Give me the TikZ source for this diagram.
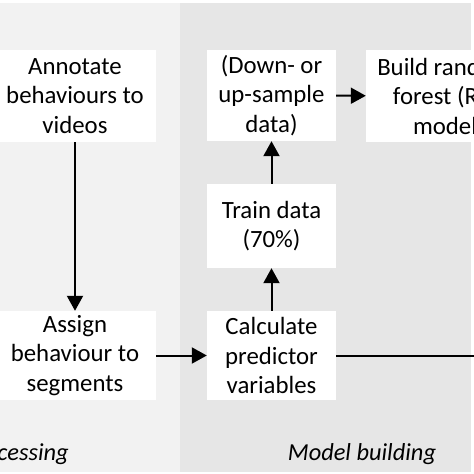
\documentclass[tikz,border=0pt]{standalone}
\usepackage{fontspec}
\setmainfont{Carlito}
\usetikzlibrary{arrows.meta}
\definecolor{panelA}{HTML}{F2F2F2}
\definecolor{panelB}{HTML}{E6E6E6}
\tikzset{
  stepbox/.style={fill=white, draw=none, inner sep=0pt, align=center,
    font=\fontsize{24.8}{29.5}\selectfont, text=black},
  conn/.style={line width=2pt, draw=black},
  arr/.style={conn, -{Triangle[width=16pt,length=15pt]}},
  phase/.style={font=\fontsize{24.4}{28}\selectfont\itshape, inner sep=0pt}
}
\begin{document}
\begin{tikzpicture}[x=1pt,y=-1pt]
\clip (0,0) rectangle (474,474);
\fill[white] (0,0) rectangle (474,474);
\fill[panelA] (0,3) rectangle (180,472);
\fill[panelB] (180,3) rectangle (471,472);
% boxes
\node[stepbox, minimum width=162pt, minimum height=92pt] (ann) at (75,96) {Annotate\\behaviours to\\videos};
\node[stepbox, minimum width=129pt, minimum height=91pt] (down) at (271.5,95.5) {(Down- or\\up-sample\\data)};
\node[stepbox, minimum width=158pt, minimum height=92pt] (rf) at (445,96) {Build random\\forest (RF)\\model};
\node[stepbox, minimum width=129pt, minimum height=84pt] (train) at (271.5,226) {Train data\\(70\%)};
\node[stepbox, minimum width=162pt, minimum height=89pt] (asg) at (75,355.5) {Assign\\behaviour to\\segments};
\node[stepbox, minimum width=129pt, minimum height=89pt] (calc) at (271.5,355.5) {Calculate\\predictor\\variables};
\coordinate (rend) at (474,355.5);
% connectors
\draw[arr] (ann) -- (asg);
\draw[arr] (asg) -- (calc);
\draw[arr] (calc) -- (train);
\draw[arr] (train) -- (down);
\draw[arr] (down) -- (rf);
\draw[conn] (calc.east) -- (rend);
% phase labels
\node[phase, anchor=base east] (pre) at (69,460) {cessing};
\node[phase, anchor=base] (mb) at (362,460) {Model building};
\end{tikzpicture}
\end{document}
